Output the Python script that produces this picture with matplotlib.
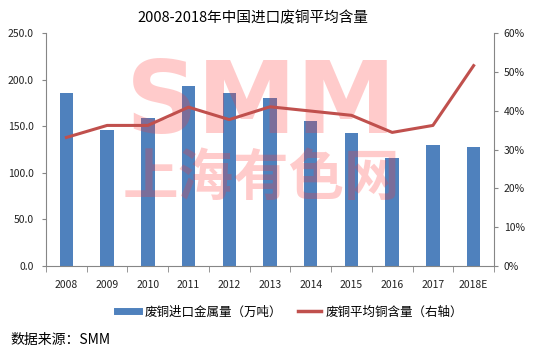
import matplotlib.pyplot as plt
from matplotlib.ticker import FuncFormatter, MultipleLocator
from matplotlib.lines import Line2D
import numpy as np

plt.rcParams['font.family'] = ['Noto Sans CJK SC', 'DejaVu Sans']
plt.rcParams['axes.unicode_minus'] = False

# data
years = ['2008', '2009', '2010', '2011', '2012', '2013', '2014', '2015', '2016', '2017', '2018E']
import_metal = [186, 146, 158.5, 193, 185.5, 180, 155.5, 142.5, 116, 130, 127.5]   # 万吨
avg_content = [33.1, 36.2, 36.2, 40.9, 37.7, 41.0, 39.9, 38.8, 34.4, 36.2, 51.6]   # %

bar_color = '#4F81BD'
line_color = '#C0504D'
axis_color = '#868686'
mark_color = '#FF3333'   # with low alpha gives light pink on white, purple over bars

fig = plt.figure(figsize=(5.38, 3.51), dpi=100)
ax = fig.add_axes([46 / 538, 1 - 266 / 351, 448 / 538, 233 / 351])
x = np.arange(len(years))

ax.bar(x, import_metal, width=0.33, color=bar_color, zorder=2)
ax.set_xlim(-0.5, len(years) - 0.5)
ax.set_ylim(0, 250)
ax.yaxis.set_major_locator(MultipleLocator(50))
ax.yaxis.set_major_formatter(FuncFormatter(lambda v, p: f'{v:.1f}'))
ax.set_xticks(x)
ax.set_xticklabels(years)
ax.set_xticks(np.arange(-0.5, len(years), 1), minor=True)
ax.tick_params(axis='x', which='major', length=0, pad=10, labelsize=7.5, colors='#222222')
ax.tick_params(axis='x', which='minor', length=4, color=axis_color)
ax.tick_params(axis='y', length=3, color=axis_color, labelsize=7.5, labelcolor='#222222', pad=6)
for s in ['top', 'right']:
    ax.spines[s].set_visible(False)
for s in ['left', 'bottom']:
    ax.spines[s].set_color(axis_color)

ax2 = ax.twinx()
ax2.plot(x, avg_content, color=line_color, lw=2.2, zorder=3)
ax2.set_ylim(0, 60)
ax2.yaxis.set_major_locator(MultipleLocator(10))
ax2.yaxis.set_major_formatter(FuncFormatter(lambda v, p: f'{v:.0f}%'))
ax2.tick_params(axis='y', length=3, color=axis_color, labelsize=7.5, labelcolor='#222222', pad=4)
for s in ['top', 'left', 'bottom']:
    ax2.spines[s].set_visible(False)
ax2.spines['right'].set_color(axis_color)

# watermark: above the bars, below the line
ax2.text(261 / 538, 1 - 105 / 351, 'SMM', fontsize=72, fontweight='bold', color=mark_color,
         alpha=0.25, ha='center', va='center', family='DejaVu Sans', zorder=1,
         transform=fig.transFigure)
ax2.text(261 / 538, 1 - 179 / 351, '上海有色网', fontsize=40, fontweight='bold', color=mark_color,
         alpha=0.25, ha='center', va='center', zorder=1, transform=fig.transFigure)

fig.text(253 / 538, 1 - 18 / 351, '2008-2018年中国进口废铜平均含量', ha='center', va='center', fontsize=10.5)

handles = [Line2D([0], [0], color=bar_color, lw=5),
           Line2D([0], [0], color=line_color, lw=2.5)]
fig.legend(handles, ['废铜进口金属量（万吨）', '废铜平均铜含量（右轴）'], loc='center',
           bbox_to_anchor=(290 / 538, 1 - 312 / 351), ncol=2, frameon=False, fontsize=9,
           handlelength=1.8, handletextpad=0.4, columnspacing=1.3)

fig.text(10 / 538, 1 - 340 / 351, '数据来源：SMM', ha='left', va='center', fontsize=10)

fig.savefig('out.png', dpi=100)
